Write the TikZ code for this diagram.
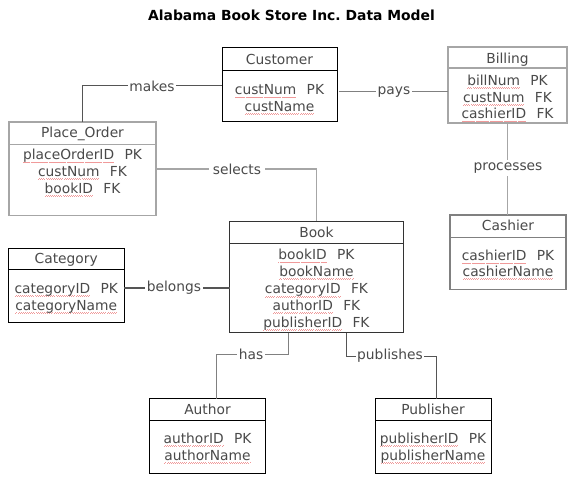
\documentclass[tikz,border=0pt]{standalone}
\usepackage{fontspec}
\setmainfont{DejaVu Sans}
\frenchspacing
\definecolor{txt}{HTML}{4A4A4A}
\definecolor{lgray}{HTML}{A6A6A6}
\definecolor{mgray}{HTML}{808080}
\definecolor{dgray}{HTML}{555555}
\definecolor{bookgray}{HTML}{333333}
\definecolor{sqred}{HTML}{F09A9A}
\newbox\sqbox
\newcommand\sq[1]{\leavevmode\setbox\sqbox\hbox{#1}\rlap{\hbox to \wd\sqbox{\color{sqred}\xleaders\hbox{\rule[-3.1pt]{0.6pt}{0.6pt}\hspace{0.45pt}\rule[-2.4pt]{0.6pt}{0.6pt}\hspace{0.45pt}}\hfill}}\box\sqbox}
\newcommand\gap{\hspace{0.75em}}
\begin{document}
\begin{tikzpicture}[x=1pt,y=-1pt,
  font=\fontsize{13.8}{16}\selectfont,
  ebox/.style={draw=black, rectangle, inner sep=0pt, outer sep=0pt, line width=1pt},
  graybox/.style={ebox, draw=lgray, line width=1.6pt},
  conn/.style={draw=mgray, line width=1pt},
  lbl/.style={fill=white, text=txt, inner xsep=1.5pt, inner ysep=2pt},
  etitle/.style={anchor=base, text=txt, inner sep=0pt},
  fld/.style={anchor=base, text=txt, inner sep=0pt}]
\fill[white] (0,0) rectangle (578,478);
\useasboundingbox (0,0) rectangle (578,478);

% title
\node[font=\bfseries\fontsize{13.9}{16}\selectfont, text=black] (title) at (291.5,15) {Alabama Book Store Inc. Data Model};

% Customer
\node[ebox, minimum width=115pt, minimum height=74pt] (cust) at (279.5,85) {};
\draw[line width=1pt, black] (cust.west |- 0,71) -- (cust.east |- 0,71);
\node[etitle] (custT) at (279.5,65) {Customer};
\node[fld] (custF1) at (279.5,95) {\sq{custNum}\gap PK};
\node[fld] (custF2) at (279.5,111.7) {\sq{custName}};

% Billing
\node[graybox, minimum width=119pt, minimum height=76pt] (bill) at (507.5,85) {};
\draw[line width=1.6pt, lgray] (bill.west |- 0,68) -- (bill.east |- 0,68);
\node[etitle] (billT) at (507.5,63.3) {Billing};
\node[fld] (billF1) at (507.5,85.7) {\sq{billNum}\gap PK};
\node[fld] (billF2) at (507.5,102.3) {\sq{custNum}\gap FK};
\node[fld] (billF3) at (507.5,119) {\sq{cashierID}\gap FK};

% Place_Order
\node[graybox, minimum width=147pt, minimum height=93.5pt] (po) at (82.5,168.75) {};
\draw[line width=1.6pt, lgray] (po.west |- 0,144.5) -- (po.east |- 0,144.5);
\node[etitle] (poT) at (82.5,137.3) {Place\_Order};
\node[fld] (poF1) at (82.5,160) {\sq{placeOrderID}\gap PK};
\node[fld] (poF2) at (82.5,176.7) {\sq{custNum}\gap FK};
\node[fld] (poF3) at (82.5,193.3) {\sq{bookID}\gap FK};

% Cashier
\node[ebox, draw=mgray, line width=1.2pt, minimum width=116pt, minimum height=74.5pt] (cash) at (508,252.25) {};
\draw[line width=1.2pt, mgray] (cash.west |- 0,237.5) -- (cash.east |- 0,237.5);
\node[etitle] (cashT) at (508,230.7) {Cashier};
\node[fld] (cashF1) at (508,261) {\sq{cashierID}\gap PK};
\node[fld] (cashF2) at (508,276.7) {\sq{cashierName}};

% Category
\node[ebox, minimum width=115.5pt, minimum height=74pt] (cat) at (66.25,285.5) {};
\draw[line width=1pt, black] (cat.west |- 0,270) -- (cat.east |- 0,270);
\node[etitle] (catT) at (66.25,264) {Category};
\node[fld] (catF1) at (66.25,293.3) {\sq{categoryID}\gap PK};
\node[fld] (catF2) at (66.25,310) {\sq{categoryName}};

% Book
\node[ebox, draw=bookgray, minimum width=174pt, minimum height=111pt] (book) at (316.5,277) {};
\draw[line width=1pt, bookgray] (book.west |- 0,243.5) -- (book.east |- 0,243.5);
\node[etitle] (bookT) at (316.5,237.7) {Book};
\node[fld] (bookF1) at (316.5,260) {\sq{bookID}\gap PK};
\node[fld] (bookF2) at (316.5,276.7) {\sq{bookName}};
\node[fld] (bookF3) at (316.5,294) {\sq{categoryID}\gap FK};
\node[fld] (bookF4) at (316.5,310.7) {\sq{authorID}\gap FK};
\node[fld] (bookF5) at (316.5,327.3) {\sq{publisherID}\gap FK};

% Author
\node[ebox, minimum width=116pt, minimum height=74.5pt] (auth) at (207.5,435.75) {};
\draw[line width=1pt, black] (auth.west |- 0,420) -- (auth.east |- 0,420);
\node[etitle] (authT) at (207.5,414.3) {Author};
\node[fld] (authF1) at (207.5,443.3) {\sq{authorID}\gap PK};
\node[fld] (authF2) at (207.5,460) {\sq{authorName}};

% Publisher
\node[ebox, minimum width=116pt, minimum height=74.5pt] (pub) at (433,435.75) {};
\draw[line width=1pt, black] (pub.west |- 0,420) -- (pub.east |- 0,420);
\node[etitle] (pubT) at (433,414.3) {Publisher};
\node[fld] (pubF1) at (433,443.3) {\sq{publisherID}\gap PK};
\node[fld] (pubF2) at (433,460) {\sq{publisherName}};

% connectors
\draw[conn, draw=dgray] (cust.west |- 0,86) -| (po.north);
\node[lbl] (lmakes) at (152,86) {makes};

\draw[conn, shorten <=2pt] (cust.east |- 0,92) -- (bill.west |- 0,92);
\node[lbl] (lpays) at (394,92) {pays};

\draw[conn, draw=lgray, line width=1.4pt] (bill.south) -- (bill.south |- cash.north);
\node[lbl, inner ysep=3pt] (lproc) at (508,168) {processes};

\draw[conn, draw=lgray, line width=1.4pt] (po.east |- 0,169) -| (book.north);
\node[lbl, inner xsep=4pt] (lsel) at (237,169) {selects};

\draw[conn, draw=dgray] (cat.east |- 0,288) -- (book.west |- 0,288);
\node[lbl] (lbel) at (174,288) {belongs};

\coordinate (hs1) at (288,354);
\coordinate (hs2) at (216,354);
\draw[conn] (book.south -| hs1) -- (hs1) -- (hs2) -- (auth.north -| hs2);
\node[lbl] (lhas) at (251,354) {has};

\coordinate (pb1) at (346,356);
\coordinate (pb2) at (436,356);
\draw[conn, draw=dgray] (book.south -| pb1) -- (pb1) -- (pb2) -- (pub.north -| pb2);
\node[lbl] (lpub) at (390,356) {publishes};
\end{tikzpicture}
\end{document}
